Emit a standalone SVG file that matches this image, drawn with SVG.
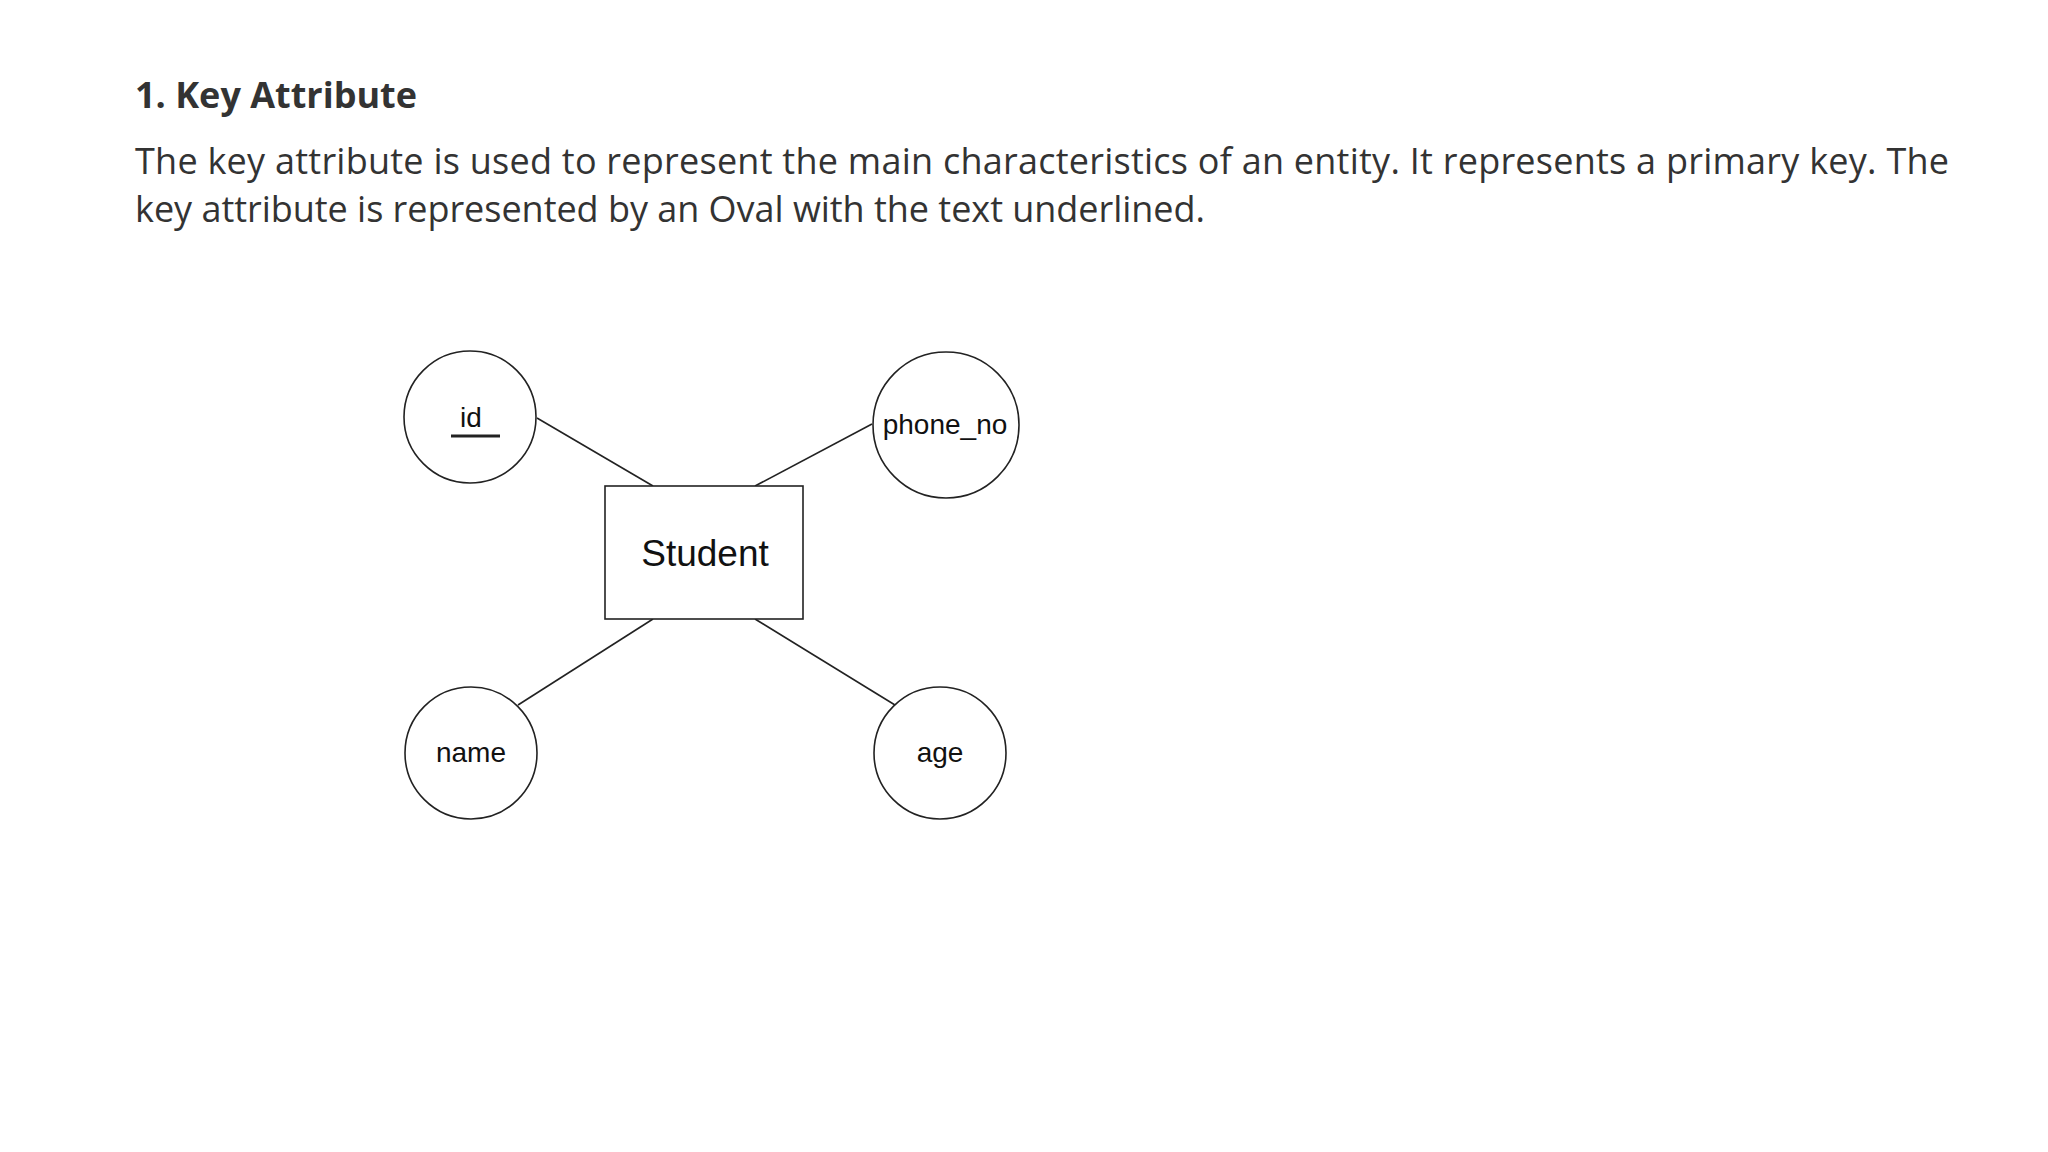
<svg xmlns="http://www.w3.org/2000/svg" width="2048" height="1152" viewBox="0 0 2048 1152">
<style>
.h{font-family:"Open Sans","Noto Sans",sans-serif;font-weight:bold;font-size:36px;fill:#333}
.b{font-family:"Open Sans","Noto Sans",sans-serif;font-size:36px;fill:#333}
.s{fill:#fff;stroke:#222;stroke-width:1.6}
.l{font-family:"Liberation Sans",Arial,sans-serif;font-size:28px;fill:#111;text-anchor:middle}
.c line{stroke:#222;stroke-width:1.6}
</style>
<rect width="2048" height="1152" fill="#fff"/>
<text class="h" x="135" y="108">1. Key Attribute</text>
<text class="b" x="135" y="174" textLength="1814" lengthAdjust="spacing">The key attribute is used to represent the main characteristics of an entity. It represents a primary key. The</text>
<text class="b" x="135" y="222" textLength="1070" lengthAdjust="spacing">key attribute is represented by an Oval with the text underlined.</text>
<g class="c" id="connectors">
<line x1="537" y1="418" x2="653" y2="486"/>
<line x1="872" y1="424" x2="755" y2="486"/>
<line x1="518" y1="705" x2="653" y2="619"/>
<line x1="895" y1="705" x2="755" y2="619"/>
</g>
<g id="student"><rect class="s" x="605" y="486" width="198" height="133"/><text class="l" x="705" y="566" style="font-size:37px">Student</text></g>
<g id="id"><ellipse class="s" cx="470" cy="417" rx="66" ry="66"/><text class="l" x="471" y="427">id</text><line x1="451" y1="436" x2="500" y2="436" stroke="#222" stroke-width="3"/></g>
<g id="phone_no"><ellipse class="s" cx="946" cy="425" rx="73" ry="73"/><text class="l" x="945" y="434">phone_no</text></g>
<g id="name"><ellipse class="s" cx="471" cy="753" rx="66" ry="66"/><text class="l" x="471" y="762">name</text></g>
<g id="age"><ellipse class="s" cx="940" cy="753" rx="66" ry="66"/><text class="l" x="940" y="762">age</text></g>
</svg>
